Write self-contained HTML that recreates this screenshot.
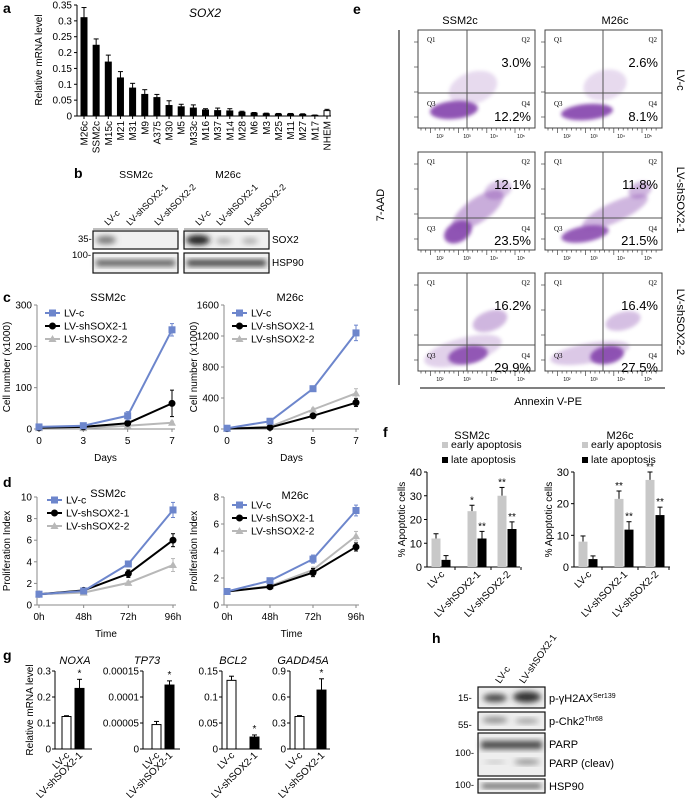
<!DOCTYPE html>
<html><head><meta charset="utf-8">
<style>
html,body{margin:0;padding:0;background:#fff;}
svg{display:block;font-family:"Liberation Sans",Arial,sans-serif;}
</style></head>
<body>
<svg id="fig" width="685" height="798" viewBox="0 0 685 798" xmlns="http://www.w3.org/2000/svg">
<defs>
<filter id="blur2" x="-50%" y="-50%" width="200%" height="200%"><feGaussianBlur stdDeviation="3"/></filter>
<filter id="blur1" x="-50%" y="-50%" width="200%" height="200%"><feGaussianBlur stdDeviation="1.8"/></filter>
</defs>
<text x="3" y="13" font-size="14" font-weight="bold">a</text>
<text x="74" y="178" font-size="14" font-weight="bold">b</text>
<text x="3" y="302" font-size="14" font-weight="bold">c</text>
<text x="3" y="487" font-size="14" font-weight="bold">d</text>
<text x="353" y="14" font-size="14" font-weight="bold">e</text>
<text x="383" y="437" font-size="14" font-weight="bold">f</text>
<text x="3" y="660" font-size="14" font-weight="bold">g</text>
<text x="432" y="643" font-size="14" font-weight="bold">h</text>

<g font-size="9.5">
<text x="136" y="178" text-anchor="middle" font-size="10.5">SSM2c</text>
<text x="228" y="178" text-anchor="middle" font-size="10.5">M26c</text>
<g font-size="9">
<text transform="translate(108,226) rotate(-45)">LV-c</text>
<text transform="translate(130,226) rotate(-45)">LV-shSOX2-1</text>
<text transform="translate(158,226) rotate(-45)">LV-shSOX2-2</text>
<text transform="translate(199,226) rotate(-45)">LV-c</text>
<text transform="translate(220,226) rotate(-45)">LV-shSOX2-1</text>
<text transform="translate(248,226) rotate(-45)">LV-shSOX2-2</text>
</g>
<line x1="93" y1="229" x2="178" y2="229" stroke="#555" stroke-width="0.8"/>
<line x1="184" y1="229" x2="268" y2="229" stroke="#555" stroke-width="0.8"/>
<rect x="93" y="231" width="85" height="18" fill="#f0f0f0" stroke="#111" stroke-width="1.2"/>
<rect x="184" y="231" width="85" height="18" fill="#f0f0f0" stroke="#111" stroke-width="1.2"/>
<ellipse cx="106" cy="240" rx="10" ry="4" fill="#777" filter="url(#blur2)"/>
<ellipse cx="198" cy="240" rx="12" ry="5" fill="#222" filter="url(#blur2)"/>
<ellipse cx="224" cy="241" rx="8" ry="3" fill="#aaa" filter="url(#blur2)"/>
<ellipse cx="250" cy="241" rx="8" ry="3" fill="#aaa" filter="url(#blur2)"/>
<rect x="93" y="253" width="85" height="20" fill="#f0f0f0" stroke="#111" stroke-width="1.2"/>
<rect x="184" y="253" width="85" height="20" fill="#f0f0f0" stroke="#111" stroke-width="1.2"/>
<rect x="96" y="260" width="79" height="6" fill="#555" filter="url(#blur2)"/>
<rect x="187" y="260" width="79" height="6" fill="#333" filter="url(#blur2)"/>
<text x="78" y="242">35-</text>
<text x="72" y="258">100-</text>
<text x="272" y="243" font-size="10">SOX2</text>
<text x="272" y="266" font-size="10">HSP90</text>
</g>

<g font-size="9.5">
<text transform="translate(500,684) rotate(-55)" font-size="9.5">LV-c</text>
<text transform="translate(524,684) rotate(-55)" font-size="9.5">LV-shSOX2-1</text>
<rect x="478" y="687" width="67" height="21" fill="#eee" stroke="#111" stroke-width="1.2"/>
<ellipse cx="495" cy="698" rx="12" ry="4" fill="#444" filter="url(#blur2)"/>
<ellipse cx="527" cy="697" rx="14" ry="5.5" fill="#333" filter="url(#blur2)"/>
<rect x="478" y="712" width="67" height="18" fill="#eee" stroke="#111" stroke-width="1.2"/>
<ellipse cx="495" cy="720" rx="13" ry="3" fill="#888" filter="url(#blur2)"/>
<ellipse cx="527" cy="721" rx="12" ry="2.5" fill="#999" filter="url(#blur2)"/>
<rect x="478" y="733" width="67" height="43" fill="#eee" stroke="#111" stroke-width="1.2"/>
<rect x="481" y="741" width="61" height="8" fill="#444" filter="url(#blur2)"/>
<ellipse cx="495" cy="762" rx="11" ry="1.5" fill="#bbb" filter="url(#blur2)"/>
<ellipse cx="527" cy="762" rx="13" ry="2.5" fill="#888" filter="url(#blur2)"/>
<rect x="478" y="779" width="67" height="14" fill="#eee" stroke="#111" stroke-width="1.2"/>
<rect x="482" y="784" width="59" height="4" fill="#444" filter="url(#blur2)"/>
<text x="458" y="701">15-</text>
<text x="458" y="728">55-</text>
<text x="455" y="756">100-</text>
<text x="455" y="788">100-</text>
<text x="549" y="702" font-size="11">p-γH2AX<tspan font-size="7" dy="-4">Ser139</tspan></text>
<text x="549" y="725" font-size="11">p-Chk2<tspan font-size="7" dy="-4">Thr68</tspan></text>
<text x="549" y="748" font-size="11">PARP</text>
<text x="549" y="767" font-size="11">PARP (cleav)</text>
<text x="549" y="790" font-size="11">HSP90</text>
</g>

<g id="flow">
<text x="460" y="24" text-anchor="middle" font-size="11">SSM2c</text>
<text x="615" y="24" text-anchor="middle" font-size="11">M26c</text>
<line x1="399" y1="30" x2="399" y2="385" stroke="#000" stroke-width="1"/>
<text transform="translate(384,205) rotate(-90)" text-anchor="middle" font-size="11">7-AAD</text>
<line x1="420" y1="388" x2="665" y2="388" stroke="#000" stroke-width="1"/>
<text x="548" y="405" text-anchor="middle" font-size="11">Annexin V-PE</text>
<text transform="translate(677,80) rotate(90)" text-anchor="middle" font-size="11">LV-c</text>
<text transform="translate(677,200) rotate(90)" text-anchor="middle" font-size="11">LV-shSOX2-1</text>
<text transform="translate(677,322) rotate(90)" text-anchor="middle" font-size="11">LV-shSOX2-2</text>
</g>
</svg>
<script>
// ---------- data ----------
const aCats=['M26c','SSM2c','M15c','M21','M31','M9','A375','M30','M5','M33c','M16','M37','M14','M28','M6','M3','M25','M11','M27','M17','NHEM'];
const aVals=[0.31,0.223,0.17,0.12,0.088,0.068,0.058,0.033,0.029,0.025,0.019,0.017,0.016,0.012,0.009,0.007,0.006,0.006,0.005,0.002,0.017];
const aErr=[0.032,0.02,0.022,0.02,0.015,0.015,0.01,0.015,0.008,0.01,0.004,0.008,0.007,0.003,0.002,0.002,0.002,0.002,0.002,0.001,0.004];
const aTicks=[0,0.05,0.1,0.15,0.2,0.25,0.3,0.35];

const seriesNames=['LV-c','LV-shSOX2-1','LV-shSOX2-2'];
const cDays=['0','3','5','7'];
const cSSMLvc=[5,8,32,240], cSSMLvcErr=[2,2,10,15];
const cSSMSh1=[3,5,14,62], cSSMSh1Err=[1,1,3,32];
const cSSMSh2=[2,2,8,15], cSSMSh2Err=[1,1,2,4];
const cSSMTicks=[0,100,200,300];
const cM26Lvc=[10,100,520,1240], cM26LvcErr=[5,15,30,100];
const cM26Sh1=[5,20,170,340], cM26Sh1Err=[3,5,20,50];
const cM26Sh2=[5,30,250,460], cM26Sh2Err=[3,5,20,60];
const cM26Ticks=[0,400,800,1200,1600];

const dTimes=['0h','48h','72h','96h'];
const dSSMLvc=[1,1.3,3.8,8.8], dSSMLvcErr=[0.1,0.1,0.25,0.7];
const dSSMSh1=[1,1.35,2.9,6.0], dSSMSh1Err=[0.1,0.1,0.35,0.6];
const dSSMSh2=[1,1.15,2.05,3.7], dSSMSh2Err=[0.1,0.1,0.15,0.6];
const dSSMTicks=[0,2,4,6,8,10];
const dM26Lvc=[1,1.8,3.4,7.0], dM26LvcErr=[0.1,0.1,0.3,0.4];
const dM26Sh1=[1,1.35,2.4,4.3], dM26Sh1Err=[0.1,0.1,0.3,0.3];
const dM26Sh2=[1,1.4,2.6,5.1], dM26Sh2Err=[0.1,0.1,0.2,0.35];
const dM26Ticks=[0,2,4,6,8];

const fCats=['LV-c','LV-shSOX2-1','LV-shSOX2-2'];
const fSSMEarly=[12,23.5,30], fSSMEarlyErr=[2,2.5,3.5];
const fSSMLate=[3,12,16], fSSMLateErr=[1.8,3,3];
const fSSMEarlySig=['','*','**'], fSSMLateSig=['','**','**'];
const fSSMTicks=[0,10,20,30,40];
const fM26Early=[8,21.5,27.5], fM26EarlyErr=[1.8,2.5,2.5];
const fM26Late=[2.5,11.8,16.4], fM26LateErr=[1,2.5,2.5];
const fM26EarlySig=['','**','**'], fM26LateSig=['','**','**'];
const fM26Ticks=[0,10,20,30];

const gGenes=['NOXA','TP73','BCL2','GADD45A'];
const gCtrl=[0.125,0.000047,0.132,0.375];
const gCtrlErr=[0.003,0.000006,0.008,0.01];
const gKd=[0.233,0.000123,0.023,0.68];
const gKdErr=[0.035,0.000008,0.004,0.13];
const gTickLabels=[['0','0.1','0.2','0.3'],['0','0.00005','0.0001','0.00015'],['0','0.05','0.1','0.15'],['0','0.3','0.6','0.9']];
const gTickVals=[[0,0.1,0.2,0.3],[0,0.00005,0.0001,0.00015],[0,0.05,0.1,0.15],[0,0.3,0.6,0.9]];

const ePctQ2=['3.0%','2.6%','12.1%','11.8%','16.2%','16.4%'];
const ePctQ4=['12.2%','8.1%','23.5%','21.5%','29.9%','27.5%'];

// ---------- helpers ----------
const NS='http://www.w3.org/2000/svg';
const svg=document.getElementById('fig');
function mk(tag,attrs,parent){const e=document.createElementNS(NS,tag);for(const k in attrs)e.setAttribute(k,attrs[k]);(parent||svg).appendChild(e);return e;}
function tx(x,y,s,attrs){const e=mk('text',Object.assign({x:x,y:y},attrs||{}));e.textContent=s;return e;}
function lin(v,vmax,y0,yT){return y0-(v/vmax)*(y0-yT);}

// ---------- panel a ----------
(function(){
 const x0=77,x1=331,y0=116,yT=5,vmax=0.35,first=84,step=12.15;
 let e=mk('line',{x1:x0,y1:yT,x2:x0,y2:y0,stroke:'#000','stroke-width':1});
 
 
 e=mk('line',{x1:x0,y1:y0,x2:x1,y2:y0,stroke:'#000','stroke-width':1});
 
 
 aTicks.forEach(t=>{const y=lin(t,vmax,y0,yT);
  mk('line',{x1:x0-3,y1:y,x2:x0,y2:y,stroke:'#000'});
  const l=tx(x0-5,y+3.5,String(t),{'text-anchor':'end','font-size':10});
  
  });
 aCats.forEach((c,i)=>{const cx=first+i*step,y=lin(aVals[i],vmax,y0,yT),ye=lin(aVals[i]+aErr[i],vmax,y0,yT);
  mk('line',{x1:cx,y1:y,x2:cx,y2:ye,stroke:'#000','stroke-width':1});
  mk('line',{x1:cx-2.5,y1:ye,x2:cx+2.5,y2:ye,stroke:'#000','stroke-width':1});
  const b=mk('rect',{x:cx-3,y:y,width:6,height:y0-y,fill:c==='NHEM'?'#fff':'#000',stroke:'#000','stroke-width':1});
  
  
  mk('line',{x1:cx,y1:y0,x2:cx,y2:y0+3,stroke:'#000'});
  const l=tx(0,0,c,{transform:`translate(${cx+3.5},${y0+5}) rotate(-90)`,'text-anchor':'end','font-size':10});
  
  });
 let t=tx(42,60,'Relative mRNA level',{transform:'rotate(-90 42 60)','text-anchor':'middle','font-size':10});
 
 
 t=tx(205,17,'SOX2',{'text-anchor':'middle','font-size':12,'font-style':'italic'});
 
 
})();

// ---------- line charts (c, d) ----------
const colors=['#6d86cc','#000','#b8b8b8'];
function marker(kind,x,y,name){let m;
 if(kind===0)m=mk('rect',{x:x-3.5,y:y-3.5,width:7,height:7,fill:colors[0]});
 else if(kind===1)m=mk('circle',{cx:x,cy:y,r:3.5,fill:colors[1]});
 else m=mk('polygon',{points:`${x},${y-4} ${x-4},${y+3} ${x+4},${y+3}`,fill:colors[2]});
 
 }
function lineChart(o){
 const {ax,x0,x1,y0,yT,ticks,cats,series,errs,title,titleX,titleY,ylab,xlab,leg,pfx}=o;
 const vmax=ticks[ticks.length-1];
 let e=mk('line',{x1:ax,y1:yT,x2:ax,y2:y0,stroke:'#888','stroke-width':1});
 
 
 e=mk('line',{x1:ax,y1:y0,x2:x1+3,y2:y0,stroke:'#888','stroke-width':1});
 
 
 ticks.forEach(t=>{const y=lin(t,vmax,y0,yT);
  mk('line',{x1:ax-3,y1:y,x2:ax,y2:y,stroke:'#888'});
  const l=tx(ax-5,y+3.5,String(t),{'text-anchor':'end','font-size':10});
  
  });
 const xs=cats.map((c,i)=>x0+i*(x1-x0)/(cats.length-1));
 cats.forEach((c,i)=>{mk('line',{x1:xs[i],y1:y0,x2:xs[i],y2:y0+3,stroke:'#888'});
  const l=tx(xs[i],y0+15,c,{'text-anchor':'middle','font-size':10});
  
  });
 [2,1,0].forEach(s=>{const vals=series[s],er=errs[s];
  const pts=vals.map((v,i)=>xs[i]+','+lin(v,vmax,y0,yT)).join(' ');
  const pl=mk('polyline',{points:pts,fill:'none',stroke:colors[s],'stroke-width':2});
  
  
  vals.forEach((v,i)=>{const y1=lin(v-er[i],vmax,y0,yT),y2=lin(v+er[i],vmax,y0,yT);
   mk('line',{x1:xs[i],y1:y1,x2:xs[i],y2:y2,stroke:colors[s],'stroke-width':1});
   mk('line',{x1:xs[i]-2,y1:y2,x2:xs[i]+2,y2:y2,stroke:colors[s],'stroke-width':1});
   mk('line',{x1:xs[i]-2,y1:y1,x2:xs[i]+2,y2:y1,stroke:colors[s],'stroke-width':1});
   marker(s,xs[i],lin(v,vmax,y0,yT),pfx+'-point');});});
 let t=tx(titleX,titleY,title,{'text-anchor':'middle','font-size':11});
 
 
 const ly=(yT+y0)/2;
 t=tx(ax-27,ly,ylab,{transform:`rotate(-90 ${ax-27} ${ly})`,'text-anchor':'middle','font-size':10});
 
 
 t=tx((x0+x1)/2,y0+32,xlab,{'text-anchor':'middle','font-size':10});
 
 
 seriesNames.forEach((n,s)=>{const y=leg[1]+s*13;
  mk('line',{x1:leg[0],y1:y,x2:leg[0]+15,y2:y,stroke:colors[s],'stroke-width':2});
  marker(s,leg[0]+7.5,y,pfx+'-legend-marker');
  const l=tx(leg[0]+19,y+3.5,n,{'font-size':10.5});
  
  });
}
lineChart({pfx:'c-ssm2c',ax:37,x0:39,x1:172,y0:429,yT:305,ticks:cSSMTicks,cats:cDays,series:[cSSMLvc,cSSMSh1,cSSMSh2],errs:[cSSMLvcErr,cSSMSh1Err,cSSMSh2Err],title:'SSM2c',titleX:108,titleY:301,ylab:'Cell number (x1000)',xlab:'Days',leg:[45,313]});
lineChart({pfx:'c-m26c',ax:224,x0:227,x1:356,y0:429,yT:305,ticks:cM26Ticks,cats:cDays,series:[cM26Lvc,cM26Sh1,cM26Sh2],errs:[cM26LvcErr,cM26Sh1Err,cM26Sh2Err],title:'M26c',titleX:290,titleY:301,ylab:'Cell number (x1000)',xlab:'Days',leg:[232,313]});
lineChart({pfx:'d-ssm2c',ax:37,x0:39,x1:173,y0:605,yT:497,ticks:dSSMTicks,cats:dTimes,series:[dSSMLvc,dSSMSh1,dSSMSh2],errs:[dSSMLvcErr,dSSMSh1Err,dSSMSh2Err],title:'SSM2c',titleX:108,titleY:497,ylab:'Proliferation Index',xlab:'Time',leg:[47,500]});
lineChart({pfx:'d-m26c',ax:224,x0:227,x1:356,y0:605,yT:497,ticks:dM26Ticks,cats:dTimes,series:[dM26Lvc,dM26Sh1,dM26Sh2],errs:[dM26LvcErr,dM26Sh1Err,dM26Sh2Err],title:'M26c',titleX:295,titleY:499,ylab:'Proliferation Index',xlab:'Time',leg:[232,505]});

// ---------- panel f ----------
function fChart(o){
 const {pfx,ax,x1,y0,yT,ticks,early,earlyErr,late,lateErr,es,ls,centers,title,tX,leg}=o;
 const vmax=ticks[ticks.length-1];
 let e=mk('line',{x1:ax,y1:yT,x2:ax,y2:y0,stroke:'#000'});
 
 
 e=mk('line',{x1:ax,y1:y0,x2:x1,y2:y0,stroke:'#000'});
 
 
 ticks.forEach(t=>{const y=lin(t,vmax,y0,yT);mk('line',{x1:ax-3,y1:y,x2:ax,y2:y,stroke:'#000'});
  const l=tx(ax-5,y+4,String(t),{'text-anchor':'end','font-size':11});
  
  });
 fCats.forEach((c,i)=>{
  [[early,earlyErr,es,'#c8c8c8',-9.5],[late,lateErr,ls,'#000',0.5]].forEach(([v,er,sg,col,off])=>{
   const bx=centers[i]+off,y=lin(v[i],vmax,y0,yT),ye=lin(v[i]+er[i],vmax,y0,yT);
   mk('line',{x1:bx+4.5,y1:y,x2:bx+4.5,y2:ye,stroke:'#000'});
   mk('line',{x1:bx+2,y1:ye,x2:bx+7,y2:ye,stroke:'#000'});
   const b=mk('rect',{x:bx,y:y,width:9,height:y0-y,fill:col});
   
   
   if(sg[i]){const s=tx(bx+4.5,ye-2,sg[i],{'text-anchor':'middle','font-size':10});
    
    }});
  mk('line',{x1:centers[i]+14,y1:y0,x2:centers[i]+14,y2:y0+3,stroke:'#000'});
  const l=tx(0,0,c,{transform:`translate(${centers[i]+4},${y0+8}) rotate(-45)`,'text-anchor':'end','font-size':10});
  
  });
 let t=tx(tX,y0-128,title,{'text-anchor':'middle','font-size':11});
 
 
 const ly=(y0+yT)/2;
 t=tx(ax-22,ly,'% Apoptotic cells',{transform:`rotate(-90 ${ax-22} ${ly})`,'text-anchor':'middle','font-size':10});
 
 
 [['early apoptosis','#c8c8c8'],['late apoptosis','#000']].forEach(([n,c],k)=>{
  mk('rect',{x:leg[0],y:leg[1]+k*15-6,width:6,height:6,fill:c});
  const l=tx(leg[0]+9,leg[1]+k*15,n,{'font-size':10.5});
  
  });
}
fChart({pfx:'f-ssm2c',ax:427,x1:520,y0:567,yT:472,ticks:fSSMTicks,early:fSSMEarly,earlyErr:fSSMEarlyErr,late:fSSMLate,lateErr:fSSMLateErr,es:fSSMEarlySig,ls:fSSMLateSig,centers:[441,477,507],title:'SSM2c',tX:472,leg:[442,448]});
fChart({pfx:'f-m26c',ax:574,x1:670,y0:567,yT:472,ticks:fM26Ticks,early:fM26Early,earlyErr:fM26EarlyErr,late:fM26Late,lateErr:fM26LateErr,es:fM26EarlySig,ls:fM26LateSig,centers:[588,624,655],title:'M26c',tX:620,leg:[582,448]});

// ---------- panel g ----------
const gAx=[55,143,222,290];
const gWhiteOff=[7,9,5,5];
const gBlackOff=[20,22,28,27];
const gEnd=[92,180,262,330];
const gTitleX=[75,147,233,303];
gGenes.forEach((g,i)=>{
 const ax=gAx[i],y0=749,yT=671,vmax=gTickVals[i][3],x1=gEnd[i];
 const c1=ax+gWhiteOff[i],c2=ax+gBlackOff[i];
 let e=mk('line',{x1:ax,y1:yT,x2:ax,y2:y0,stroke:'#000'});
 
 
 e=mk('line',{x1:ax,y1:y0,x2:x1,y2:y0,stroke:'#000'});
 
 
 gTickVals[i].forEach((t,k)=>{const y=lin(t,vmax,y0,yT);mk('line',{x1:ax-3,y1:y,x2:ax,y2:y,stroke:'#000'});
  const l=tx(ax-4,y+3.5,gTickLabels[i][k],{'text-anchor':'end','font-size':10});
  
  });
 [[gCtrl,gCtrlErr,'#fff',c1,''],[gKd,gKdErr,'#000',c2,'*']].forEach(([v,er,col,cx,sg])=>{
  const y=lin(v[i],vmax,y0,yT),ye=lin(v[i]+er[i],vmax,y0,yT);
  mk('line',{x1:cx+4.5,y1:y,x2:cx+4.5,y2:ye,stroke:'#000'});
  mk('line',{x1:cx+2,y1:ye,x2:cx+7,y2:ye,stroke:'#000'});
  const b=mk('rect',{x:cx,y:y,width:9,height:y0-y,fill:col,stroke:'#000'});
  
  
  if(sg){const s=tx(cx+4.5,ye-3,sg,{'text-anchor':'middle','font-size':10});
   
   }});
 [['LV-c',c1],['LV-shSOX2-1',c2]].forEach(([n,cx])=>{
  const l=tx(0,0,n,{transform:`translate(${cx+8},${y0+7}) rotate(-45)`,'text-anchor':'end','font-size':10});
  
  });
 const t=tx(gTitleX[i],664,g,{'text-anchor':'middle','font-size':11,'font-style':'italic'});
 
 
});
(function(){const t=tx(33,710,'Relative mRNA level',{transform:'rotate(-90 33 710)','text-anchor':'middle','font-size':10});
 
 })();

// ---------- panel e (flow cytometry plots) ----------
const flow=document.getElementById('flow');
const boxes=[[418,30,49,63],[545,30,58,63],[418,152,49,66],[545,152,58,66],[418,273,49,72],[545,273,58,72]];
const clouds=[
 [[36,80,24,9,-5,0.95],[55,58,25,16,-20,0.2]],
 [[42,82,26,8,-5,0.95],[60,55,22,15,-15,0.2]],
 [[40,80,15,10,-30,0.95],[60,58,30,12,-35,0.45],[80,38,14,9,-20,0.35]],
 [[40,82,24,8,-10,0.9],[70,60,36,10,-25,0.4],[95,38,12,8,-20,0.4]],
 [[50,82,20,9,-10,0.9],[72,48,18,10,-20,0.4],[45,78,40,13,-15,0.25]],
 [[62,82,17,9,-10,0.95],[45,80,40,10,-10,0.3],[78,48,18,9,-15,0.35]]
];
boxes.forEach(([x,y,vx,hy],k)=>{
 const g=mk('g',{},flow);
 
 
 mk('rect',{x:x,y:y,width:117,height:98,fill:'#fff',stroke:'#444','stroke-width':1},g);
 clouds[k].forEach(([cx,cy,rx,ry,rot,op])=>{
  mk('ellipse',{cx:x+cx,cy:y+cy,rx:rx,ry:ry,fill:'#8a4cb0',opacity:op,transform:`rotate(${rot} ${x+cx} ${y+cy})`,filter:'url(#blur1)'},g);});
 mk('line',{x1:x+vx,y1:y,x2:x+vx,y2:y+98,stroke:'#555','stroke-width':1},g);
 mk('line',{x1:x,y1:y+hy,x2:x+117,y2:y+hy,stroke:'#555','stroke-width':1},g);
 [['Q1',x+9,y+12,'start'],['Q2',x+112,y+12,'end'],['Q3',x+9,y+hy+13,'start'],['Q4',x+112,y+hy+13,'end']].forEach(([q,qx,qy,an])=>{
  const l=mk('text',{x:qx,y:qy,'font-size':7,'text-anchor':an,'font-family':'Liberation Serif,serif'},g);l.textContent=q;});
 let p=mk('text',{x:x+113,y:y+37,'font-size':13,'text-anchor':'end'},g);p.textContent=ePctQ2[k];
 
 
 p=mk('text',{x:x+113,y:y+hy+(k<2?28:27),'font-size':13,'text-anchor':'end'},g);p.textContent=ePctQ4[k];
 
 
 for(let t=0;t<24;t++){const tx0=x+3+t*4.7,len=(t%6===2)?5:2.5;mk('line',{x1:tx0,y1:y+98,x2:tx0,y2:y+98+len,stroke:'#444','stroke-width':0.7},g);}
 for(let t=0;t<4;t++){mk('line',{x1:x-4,y1:y+12+t*25,x2:x,y2:y+12+t*25,stroke:'#444','stroke-width':0.7},g);
  const l=mk('text',{x:x+22+t*27,y:y+108,'font-size':5,'text-anchor':'middle'},g);l.textContent='10'+['²','³','⁴','⁵'][t];}
});
</script>
</body></html>
